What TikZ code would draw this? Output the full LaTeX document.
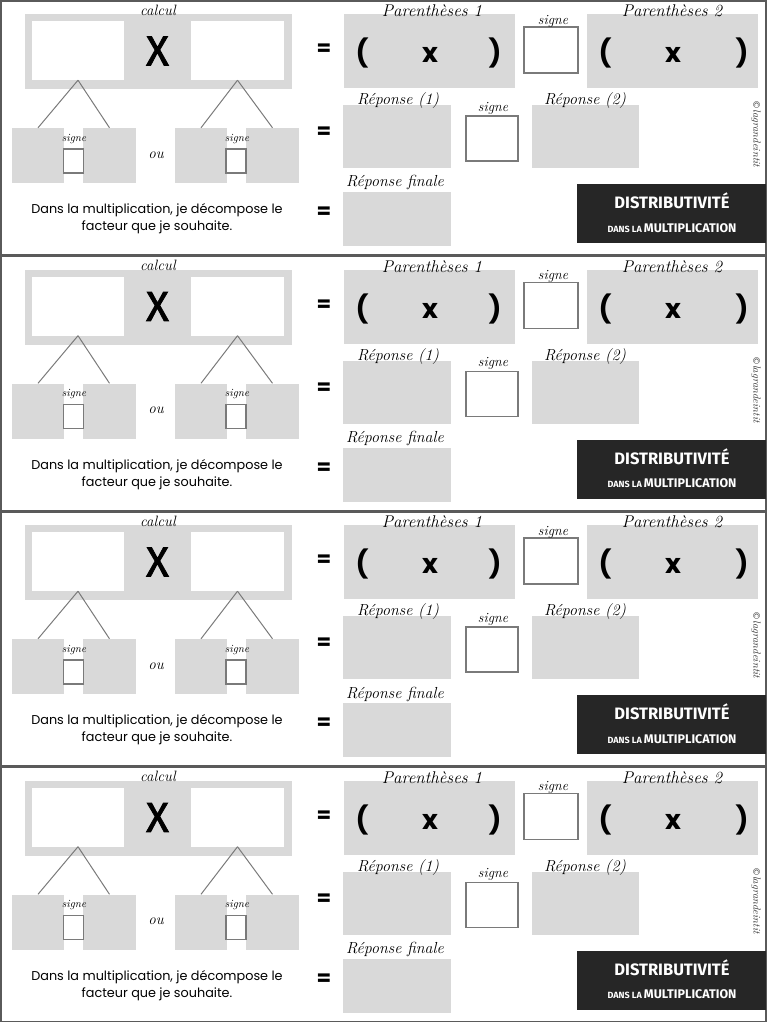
\documentclass[tikz,border=0pt]{standalone}
\usepackage{fontspec}
\setmainfont{Poppins}
\newfontfamily\handfont{Latin Modern Roman}
\newfontfamily\titlefont{Fira Sans}
\newfontfamily\xfont[FakeBold=1.8]{Fira Sans}
\newfontfamily\dejavfont{DejaVu Sans}
\definecolor{boxgray}{HTML}{D9D9D9}
\definecolor{framegray}{HTML}{5A5A5A}
\definecolor{linegray}{HTML}{7A7A7A}
\definecolor{dark}{HTML}{262626}
\tikzset{
  graybox/.style={fill=boxgray,draw=none,inner sep=0pt,rectangle},
  whitebox/.style={fill=white,draw=none,inner sep=0pt,rectangle},
  signbox/.style={fill=white,draw=linegray,line width=1.2pt,inner sep=0pt,rectangle},
  lbl/.style={font=\handfont\itshape\fontsize{15}{15}\selectfont,inner sep=0pt},
  smalllbl/.style={font=\handfont\itshape\fontsize{11}{11}\selectfont,inner sep=0pt},
  bigsym/.style={font=\bfseries\fontsize{27}{27}\selectfont,inner sep=0pt},
  eqsign/.style={font=\bfseries\fontsize{21}{21}\selectfont,inner sep=0pt},
  body/.style={font=\fontsize{12.8}{17}\selectfont,inner sep=0pt,align=center},
  branch/.style={draw=linegray,line width=1pt},
  frame/.style={draw=framegray,line width=1.2pt},
}
\begin{document}
\begin{tikzpicture}[x=1pt,y=-1pt]
\useasboundingbox (0,0) rectangle (768,1024);
\foreach \i/\o in {a/0,b/255.5,c/511,d/766.5}{
\begin{scope}[yshift=-\o pt]
  \draw[frame] (1,1) rectangle (766,255);
  % calcul block
  \node[graybox,minimum width=267pt,minimum height=75pt] (calc\i) at (158.5,51.5) {};
  \node[whitebox,minimum width=92pt,minimum height=59pt] (wl\i) at (78,50.5) {};
  \node[whitebox,minimum width=93pt,minimum height=59pt] (wr\i) at (237.5,50.5) {};
  \node[font=\xfont\fontsize{42}{42}\selectfont,inner sep=0pt] (mx\i) at (157.5,51) {X};
  \node[lbl] (lcalc\i) at (158,10) {calcul};
  % lower boxes
  \node[graybox,minimum width=52pt,minimum height=55pt] (ll\i) at (38,155.5) {};
  \node[graybox,minimum width=53pt,minimum height=55pt] (lr\i) at (109.5,155.5) {};
  \node[signbox,minimum width=20pt,minimum height=24pt] (lsq\i) at (73.5,161) {};
  \node[smalllbl] (lsg\i) at (74,139) {signe};
  \node[graybox,minimum width=52pt,minimum height=55pt] (rl\i) at (201,155.5) {};
  \node[graybox,minimum width=53pt,minimum height=55pt] (rr\i) at (272.5,155.5) {};
  \node[signbox,minimum width=20pt,minimum height=24pt] (rsq\i) at (236,161) {};
  \node[smalllbl] (rsg\i) at (237,139) {signe};
  \node[lbl] (ou\i) at (156,155) {ou};
  \draw[branch] (wl\i.south) -- (ll\i.north);
  \draw[branch] (wl\i.south) -- (lr\i.north);
  \draw[branch] (wr\i.south) -- (rl\i.north);
  \draw[branch] (wr\i.south) -- (rr\i.north);
  \node[body] (txt\i) at (157,219) {Dans la multiplication, je décompose le\\facteur que je souhaite.};
  % equals
  \node[eqsign] (eqa\i) at (324,50) {=};
  \node[eqsign] (eqb\i) at (324,133) {=};
  \node[eqsign] (eqc\i) at (324,213) {=};
  % parentheses boxes
  \node[graybox,minimum width=171pt,minimum height=74pt] (pa\i) at (429.5,51) {};
  \node[bigsym] at (362,53) {(};
  \node[bigsym] at (430,55) {x};
  \node[bigsym] at (495,53) {)};
  \node[lbl,font=\handfont\itshape\fontsize{17}{17}\selectfont] (lpa\i) at (432,11) {Parenthèses 1};
  \node[signbox,minimum width=54pt,minimum height=46pt] (sa\i) at (551,50) {};
  \node[lbl,font=\handfont\itshape\fontsize{14}{14}\selectfont] (lsa\i) at (553,21) {signe};
  \node[graybox,minimum width=171pt,minimum height=74pt] (pb\i) at (672.5,51) {};
  \node[bigsym] at (605,53) {(};
  \node[bigsym] at (673,55) {x};
  \node[bigsym] at (742,53) {)};
  \node[lbl,font=\handfont\itshape\fontsize{17}{17}\selectfont] (lpb\i) at (672,11) {Parenthèses 2};
  % responses
  \node[graybox,minimum width=108pt,minimum height=63pt] (ra\i) at (397,136.5) {};
  \node[lbl,font=\handfont\itshape\fontsize{16}{16}\selectfont] (lra\i) at (398,101) {Réponse (1)};
  \node[signbox,minimum width=52pt,minimum height=45pt] (sb\i) at (492,138.5) {};
  \node[lbl,font=\handfont\itshape\fontsize{14}{14}\selectfont] (lsb\i) at (493,108) {signe};
  \node[graybox,minimum width=107pt,minimum height=63pt] (rb\i) at (585.5,136.5) {};
  \node[lbl,font=\handfont\itshape\fontsize{16}{16}\selectfont] (lrb\i) at (585,101) {Réponse (2)};
  \node[graybox,minimum width=108pt,minimum height=54pt] (rf\i) at (397,219) {};
  \node[lbl,font=\handfont\itshape\fontsize{16}{16}\selectfont] (lrf\i) at (395,183) {Réponse finale};
  % title box
  \node[fill=dark,inner sep=0pt,minimum width=189pt,minimum height=59pt] (tb\i) at (671.5,213.5) {};
  \node[text=white,font=\titlefont\bfseries\fontsize{16.5}{16.5}\selectfont,inner sep=0pt] (tt\i) at (672,201) {DISTRIBUTIVITÉ};
  \node[text=white,inner sep=0pt] (ts\i) at (672,228) {{\titlefont\bfseries\fontsize{9}{9}\selectfont DANS LA }{\titlefont\bfseries\fontsize{12.5}{12.5}\selectfont MULTIPLICATION}};
  \node[rotate=-90,inner sep=0pt,font=\handfont\itshape\fontsize{10.5}{10.5}\selectfont,text=black!80] (cp\i) at (756,134) {{\dejavfont\fontsize{9}{9}\selectfont ©}lagrandeintit};
\end{scope}
}
\end{tikzpicture}
\end{document}
